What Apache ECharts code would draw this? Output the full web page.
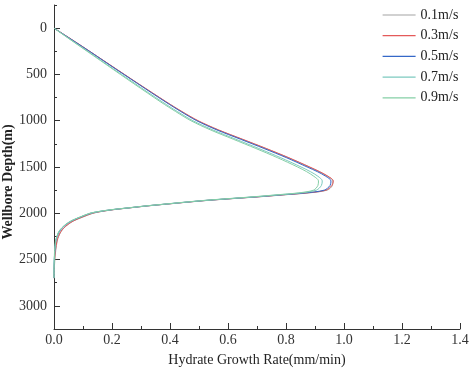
<!DOCTYPE html>
<html>
<head>
<meta charset="utf-8">
<script src="https://cdn.jsdelivr.net/npm/echarts@6/dist/echarts.min.js"></script>
<style>html,body{margin:0;padding:0;background:#fff;}#c{width:474px;height:372px;}</style>
</head>
<body>
<div id="c"></div>
<script>
var seriesNames = ['0.1m/s', '0.3m/s', '0.5m/s', '0.7m/s', '0.9m/s'];
var depths = [0,100,200,300,400,500,600,700,800,900,1000,1100,1200,1300,1400,1500,1550,1600,1650,1700,1750,1780,1800,1820,1840,1860,1880,1900,1920,1940,1960,1980,2000,2040,2080,2120,2160,2200,2250,2300,2400,2500,2600,2700];
var rate01 = [0,0.049,0.098,0.146,0.194,0.242,0.290,0.339,0.388,0.439,0.495,0.566,0.648,0.730,0.808,0.880,0.914,0.943,0.962,0.960,0.942,0.878,0.797,0.717,0.624,0.534,0.460,0.392,0.324,0.266,0.208,0.165,0.134,0.100,0.069,0.049,0.034,0.024,0.016,0.011,0.006,0.003,0.001,0];
var rate03 = [0,0.050,0.099,0.147,0.195,0.243,0.291,0.340,0.389,0.441,0.497,0.568,0.650,0.732,0.810,0.882,0.916,0.945,0.963,0.958,0.938,0.872,0.792,0.712,0.620,0.531,0.458,0.390,0.322,0.264,0.206,0.163,0.132,0.098,0.068,0.048,0.033,0.023,0.015,0.010,0.005,0.002,0.001,0];
var rate05 = [0,0.049,0.098,0.146,0.193,0.241,0.289,0.337,0.386,0.437,0.492,0.562,0.643,0.724,0.802,0.873,0.908,0.937,0.955,0.952,0.932,0.866,0.787,0.708,0.617,0.528,0.455,0.388,0.320,0.262,0.203,0.158,0.126,0.092,0.062,0.042,0.028,0.018,0.011,0.006,0.003,0.001,0,0];
var rate07 = [0,0.046,0.093,0.140,0.186,0.233,0.280,0.327,0.375,0.425,0.479,0.548,0.627,0.706,0.782,0.852,0.884,0.910,0.925,0.922,0.905,0.850,0.776,0.700,0.612,0.525,0.453,0.386,0.319,0.261,0.202,0.157,0.125,0.091,0.061,0.041,0.027,0.017,0.010,0.006,0.003,0.001,0,0];
var rate09 = [0,0.045,0.091,0.137,0.183,0.229,0.275,0.322,0.369,0.419,0.472,0.540,0.618,0.696,0.771,0.840,0.871,0.896,0.912,0.910,0.895,0.842,0.770,0.695,0.608,0.522,0.450,0.384,0.317,0.259,0.200,0.155,0.123,0.090,0.060,0.040,0.026,0.016,0.010,0.005,0.002,0.001,0,0];
var yTicks = [0, 500, 1000, 1500, 2000, 2500, 3000];
var yMinorTicks = [-250, 250, 750, 1250, 1750, 2250, 2750, 3250];

var allRates = [rate01, rate03, rate05, rate07, rate09];
var colors = ['#a3a3a3', '#e45a5a', '#3568c8', '#7ccabf', '#85cfa6'];
var FONT = '"Liberation Serif", "DejaVu Serif", serif';

var chart = echarts.init(document.getElementById('c'), null, {renderer: 'canvas'});
var series = allRates.map(function (r, k) {
  return {
    name: seriesNames[k],
    type: 'line',
    xAxisIndex: 0,
    yAxisIndex: 0,
    symbol: 'none',
    smooth: 0.3,
    lineStyle: {width: 1, color: colors[k]},
    itemStyle: {color: colors[k]},
    data: depths.map(function (d, i) { return [r[i], d]; })
  };
});

chart.setOption({
  animation: false,
  backgroundColor: '#fff',
  grid: {left: 54, right: 14, top: 5, bottom: 40},
  legend: {
    orient: 'vertical',
    left: 377,
    top: 3,
    itemWidth: 33,
    itemHeight: 14,
    itemGap: 6.7,
    itemStyle: {opacity: 0},
    lineStyle: {width: 1.2},
    textStyle: {fontFamily: FONT, fontSize: 14, color: '#222'},
    data: seriesNames
  },
  xAxis: {
    type: 'value',
    min: 0, max: 1.4, interval: 0.2,
    name: 'Hydrate Growth Rate(mm/min)',
    nameLocation: 'middle',
    nameGap: 24,
    nameTextStyle: {fontFamily: FONT, fontSize: 14, color: '#222'},
    axisLine: {show: true, onZero: false, lineStyle: {color: '#333', width: 1}},
    axisTick: {show: true, inside: true, length: 6, lineStyle: {color: '#333'}},
    minorTick: {show: true, splitNumber: 2, length: 3, lineStyle: {color: '#333'}},
    axisLabel: {
      margin: 4,
      fontFamily: FONT, fontSize: 14, color: '#333',
      formatter: function (v) { return v.toFixed(1); }
    },
    splitLine: {show: false}
  },
  yAxis: [{
    type: 'value',
    inverse: true,
    min: -250, max: 3250,
    axisLine: {show: true, onZero: false, lineStyle: {color: '#333', width: 1}},
    axisTick: {show: true, inside: true, length: 6, customValues: yTicks, lineStyle: {color: '#333'}},
    axisLabel: {
      margin: 7, fontFamily: FONT, fontSize: 14, color: '#333',
      customValues: yTicks,
      formatter: function (v) { return String(v); }
    },
    splitLine: {show: false}
  }, {
    type: 'value',
    inverse: true,
    position: 'left',
    min: -250, max: 3250,
    axisLine: {show: false},
    axisTick: {show: true, inside: true, length: 3, customValues: yMinorTicks, lineStyle: {color: '#333'}},
    axisLabel: {show: false},
    splitLine: {show: false}
  }],
  graphic: [{
    type: 'text',
    x: 8, y: 182,
    rotation: Math.PI / 2,
    style: {
      text: 'Wellbore Depth(m)',
      font: 'bold 14px ' + FONT,
      fill: '#222',
      align: 'center',
      verticalAlign: 'middle'
    }
  }],
  series: series
});
</script>
</body>
</html>
